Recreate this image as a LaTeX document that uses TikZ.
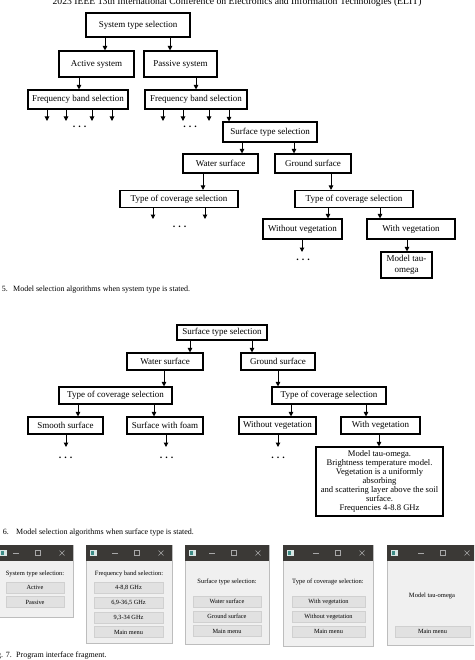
\documentclass[tikz,border=0pt]{standalone}
\usepackage{fontspec}
\setmainfont{Liberation Serif}
\usetikzlibrary{arrows.meta}
\definecolor{titlec}{HTML}{3B3936}
\definecolor{winbg}{HTML}{F0F0F0}
\definecolor{winedge}{HTML}{BDBDBD}
\definecolor{btnc}{HTML}{E1E1E1}
\definecolor{btnedge}{HTML}{D0D0D0}
\definecolor{ctrlc}{HTML}{A8A8A8}
\definecolor{iconc}{HTML}{D8E6E4}
\definecolor{icont}{HTML}{3E8C86}
\newcommand\mywin[3]{%
  \filldraw[fill=winbg, draw=winedge, line width=0.6pt] (#1,545) rectangle (#2,#3);
  \fill[titlec] (#1,545) rectangle (#2,561);
  \begin{scope}[shift={(#1,553)}]
    \fill[iconc] (3.5,-3) rectangle (11,3);
    \fill[icont] (4.5,-2) rectangle (7.5,2);
  \end{scope}
  \begin{scope}[shift={(#2,553)}]
    \draw[ctrlc, line width=0.6pt] (-60,0) -- (-54,0);
    \draw[ctrlc, line width=0.6pt] (-37.5,-2.5) rectangle (-32.5,2.5);
    \draw[ctrlc, line width=0.6pt] (-13.5,-2.5) -- (-8.5,2.5) (-13.5,2.5) -- (-8.5,-2.5);
  \end{scope}}
\newcommand\mydots{.\hspace{3pt}.\hspace{3pt}.}
\begin{document}
\begin{tikzpicture}[x=1pt,y=-1pt,
 box/.style={draw, line width=1.1pt, inner sep=0pt, align=center, font=\fontsize{9}{9}\selectfont},
 arr/.style={line width=1pt, -{Triangle[length=4.5pt,width=4.5pt]}},
 dotsn/.style={inner sep=0pt, font=\fontsize{10}{10}\selectfont\bfseries},
 figcap/.style={inner sep=0pt, font=\fontsize{8}{9}\selectfont},
 btn/.style={fill=btnc, draw=btnedge, line width=0.4pt, inner sep=0pt, font=\fontsize{6.3}{7}\selectfont},
 wtxt/.style={inner sep=0pt, font=\fontsize{6.5}{7}\selectfont},
]
\useasboundingbox (0,0) rectangle (474,660);
\clip (0,0) rectangle (474,660);
\fill[white] (0,0) rectangle (474,660);

% header
\node[anchor=base, inner sep=0pt, font=\fontsize{9.7}{10}\selectfont] (hdr) at (237,4.3) {2023 IEEE 13th International Conference on Electronics and Information Technologies (ELIT)};

% ---------- Fig 5 ----------
\node[box, minimum width=104pt, minimum height=24pt] (st) at (138,25) {System type selection};
\node[box, minimum width=75pt, minimum height=26pt] (act) at (96.5,64) {Active system};
\node[box, minimum width=73pt, minimum height=26pt] (pas) at (180.5,64) {Passive system};
\node[box, minimum width=100pt, minimum height=19pt] (fb1) at (78,99.5) {Frequency band selection};
\node[box, minimum width=102pt, minimum height=19pt] (fb2) at (196,99.5) {Frequency band selection};
\node[box, minimum width=94pt, minimum height=20pt] (sts) at (270,132) {Surface type selection};
\node[box, minimum width=75pt, minimum height=19pt] (ws) at (220.5,163.5) {Water surface};
\node[box, minimum width=76pt, minimum height=19pt] (gs) at (313,163.5) {Ground surface};
\node[box, minimum width=118pt, minimum height=17pt] (tc1) at (179,199) {Type of coverage selection};
\node[box, minimum width=118pt, minimum height=17pt] (tc2) at (354,199) {Type of coverage selection};
\node[box, minimum width=79pt, minimum height=20pt] (wov) at (302.5,229) {Without vegetation};
\node[box, minimum width=88pt, minimum height=20pt] (wv) at (411,229) {With vegetation};
\node[box, minimum width=51pt, minimum height=26pt, font=\fontsize{9}{10.5}\selectfont] (mto) at (406.5,265) {Model tau-\\omega};

\draw[arr] (st.south -| 105,0) -- (act.north -| 105,0);
\draw[arr] (st.south -| 170,0) -- (pas.north -| 170,0);
\draw[arr] (act.south -| 79,0) -- (fb1.north -| 79,0);
\draw[arr] (pas.south -| 196,0) -- (fb2.north -| 196,0);
\foreach \xx in {47,66,92,112} \draw[arr] (fb1.south -| \xx,0) -- (\xx,121);
\foreach \xx in {163,183,209} \draw[arr] (fb2.south -| \xx,0) -- (\xx,121);
\draw[arr] (fb2.south -| 229,0) -- (sts.north -| 229,0);
\node[dotsn] (d1) at (79.5,126.5) {\mydots};
\node[dotsn] (d2) at (190,126.5) {\mydots};
\draw[arr] (sts.south -| 242,0) -- (ws.north -| 242,0);
\draw[arr] (sts.south -| 294,0) -- (gs.north -| 294,0);
\draw[arr] (ws.south -| 203,0) -- (tc1.north -| 203,0);
\draw[arr] (gs.south -| 331,0) -- (tc2.north -| 331,0);
\foreach \xx in {153,205} \draw[arr] (tc1.south -| \xx,0) -- (\xx,219);
\node[dotsn] (d3) at (179.5,226.5) {\mydots};
\draw[arr] (tc2.south -| 328,0) -- (wov.north -| 328,0);
\draw[arr] (tc2.south -| 380,0) -- (wv.north -| 380,0);
\draw[arr] (wov.south -| 302,0) -- (302,252);
\node[dotsn] (d4) at (303,259.5) {\mydots};
\draw[arr] (wv.south -| 407,0) -- (mto.north -| 407,0);

\node[figcap, anchor=base east] (c5a) at (8,291.5) {Fig. 5.};
\node[figcap, anchor=base west] (c5) at (13,291.5) {Model selection algorithms when system type is stated.};

% ---------- Fig 6 ----------
\node[box, minimum width=90pt, minimum height=15pt] (s2) at (222,332.5) {Surface type selection};
\node[box, minimum width=76pt, minimum height=17pt] (ws2) at (165,361.5) {Water surface};
\node[box, minimum width=74pt, minimum height=17pt] (gs2) at (278,361.5) {Ground surface};
\node[box, minimum width=113pt, minimum height=17pt] (tc3) at (115.5,395.5) {Type of coverage selection};
\node[box, minimum width=114pt, minimum height=17pt] (tc4) at (329,395.5) {Type of coverage selection};
\node[box, minimum width=75pt, minimum height=17pt] (ss) at (65.5,425.5) {Smooth surface};
\node[box, minimum width=76pt, minimum height=17pt] (swf) at (165,425.5) {Surface with foam};
\node[box, minimum width=77pt, minimum height=17pt] (wov2) at (277.5,425.5) {Without vegetation};
\node[box, minimum width=79pt, minimum height=17pt] (wv2) at (380.5,425.5) {With vegetation};
\node[box, minimum width=127pt, minimum height=69pt, font=\fontsize{8.6}{8.9}\selectfont] (big) at (379.5,481.5) {Model tau-omega.\\Brightness temperature model.\\Vegetation is a uniformly\\absorbing\\and scattering layer above the soil\\surface.\\Frequencies 4-8.8 GHz};

\draw[arr] (s2.south -| 190,0) -- (ws2.north -| 190,0);
\draw[arr] (s2.south -| 252,0) -- (gs2.north -| 252,0);
\draw[arr] (ws2.south -| 164,0) -- (tc3.north -| 164,0);
\draw[arr] (gs2.south -| 278,0) -- (tc4.north -| 278,0);
\draw[arr] (tc3.south -| 78,0) -- (ss.north -| 78,0);
\draw[arr] (tc3.south -| 154,0) -- (swf.north -| 154,0);
\draw[arr] (tc4.south -| 291,0) -- (wov2.north -| 291,0);
\draw[arr] (tc4.south -| 366,0) -- (wv2.north -| 366,0);
\draw[arr] (ss.south -| 66,0) -- (66,447);
\draw[arr] (swf.south -| 166,0) -- (166,447);
\draw[arr] (wov2.south -| 278,0) -- (278,447);
\draw[arr] (wv2.south -| 379,0) -- (big.north -| 379,0);
\node[dotsn] (d5) at (65.5,457.5) {\mydots};
\node[dotsn] (d6) at (166.5,457.5) {\mydots};
\node[dotsn] (d7) at (278,457.5) {\mydots};

\node[figcap, anchor=base east] (c6a) at (9,534.5) {Fig. 6.};
\node[figcap, anchor=base west] (c6) at (16,534.5) {Model selection algorithms when surface type is stated.};

% ---------- Fig 7 windows ----------
\mywin{-4}{73}{617}
\node[wtxt] (w1t) at (35,574) {System type selection:};
\node[btn, minimum width=58pt, minimum height=11pt] (w1b1) at (35,587.5) {Active};
\node[btn, minimum width=58pt, minimum height=11pt] (w1b2) at (35,602) {Passive};

\mywin{86}{172}{643}
\node[wtxt] (w2t) at (129,574) {Frequency band selection:};
\node[btn, minimum width=69pt, minimum height=11pt] (w2b1) at (128.5,587.5) {4-8,8 GHz};
\node[btn, minimum width=69pt, minimum height=11pt] (w2b2) at (128.5,602.5) {6,9-36,5 GHz};
\node[btn, minimum width=69pt, minimum height=11pt] (w2b3) at (128.5,617.5) {9,3-34 GHz};
\node[btn, minimum width=69pt, minimum height=11pt] (w2b4) at (128.5,632) {Main menu};

\mywin{185}{269}{644}
\node[wtxt] (w3t) at (227,582) {Surface type selection:};
\node[btn, minimum width=68pt, minimum height=11pt] (w3b1) at (227,601.5) {Water surface};
\node[btn, minimum width=68pt, minimum height=11pt] (w3b2) at (227,616.5) {Ground surface};
\node[btn, minimum width=68pt, minimum height=11pt] (w3b3) at (227,631) {Main menu};

\mywin{283}{373}{646}
\node[wtxt] (w4t) at (328,582) {Type of coverage selection:};
\node[btn, minimum width=73pt, minimum height=11pt] (w4b1) at (328.5,602) {With vegetation};
\node[btn, minimum width=73pt, minimum height=11pt] (w4b2) at (328.5,617) {Without vegetation};
\node[btn, minimum width=73pt, minimum height=11pt] (w4b3) at (328.5,631.5) {Main menu};

\mywin{387}{478}{645}
\node[wtxt] (w5t) at (432,596) {Model tau-omega};
\node[btn, minimum width=75pt, minimum height=11pt] (w5b1) at (432.5,631.5) {Main menu};

\node[figcap, anchor=base east] (c7a) at (12,657.5) {Fig. 7.};
\node[figcap, anchor=base west] (c7) at (16,657.5) {Program interface fragment.};
\end{tikzpicture}
\end{document}
